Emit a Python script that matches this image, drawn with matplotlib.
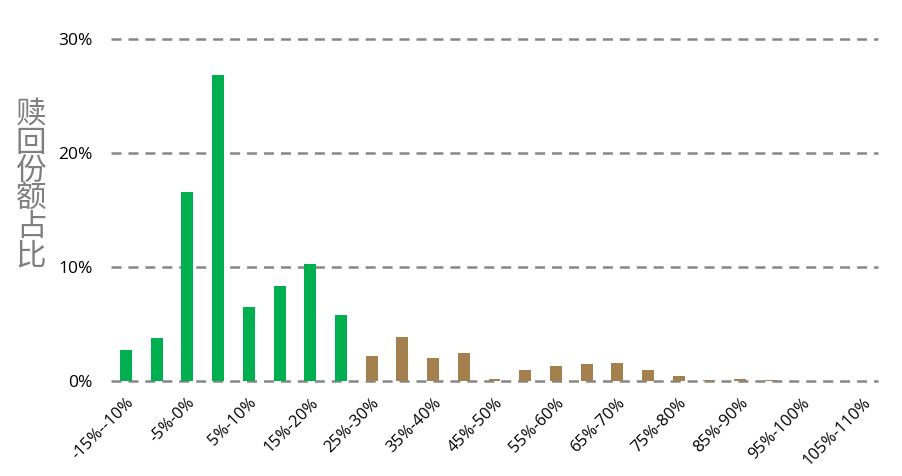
import matplotlib
matplotlib.use("Agg")
import matplotlib.pyplot as plt
import numpy as np

plt.rcParams['font.family'] = ['Open Sans', 'Noto Sans CJK SC', 'DejaVu Sans']
plt.rcParams['lines.scale_dashes'] = False

categories = ["-15%--10%", "-10%--5%", "-5%-0%", "0%-5%", "5%-10%", "10%-15%", "15%-20%",
              "20%-25%", "25%-30%", "30%-35%", "35%-40%", "40%-45%", "45%-50%", "50%-55%",
              "55%-60%", "60%-65%", "65%-70%", "70%-75%", "75%-80%", "80%-85%", "85%-90%",
              "90%-95%", "95%-100%", "100%-105%", "105%-110%"]
values = [2.7, 3.8, 16.6, 26.8, 6.5, 8.3, 10.3, 5.75,
          2.2, 3.9, 2.0, 2.5, 0.2, 1.0, 1.3, 1.5, 1.6, 1.0, 0.45, 0.05,
          0.2, 0.1, 0.03, 0.02, 0.02]
n_green = 8
yticks = [0, 10, 20, 30]
ytick_labels = ["0%", "10%", "20%", "30%"]
ylabel = "赎回份额占比"

green = "#00B050"
brown = "#A5804F"

fig = plt.figure(figsize=(9.02, 4.76), dpi=100)
ax = fig.add_axes([110.6/902, 95/476, (878.4-110.6)/902, (437-95)/476])

x = np.arange(len(categories))
colors = [green if i < n_green else brown for i in range(len(categories))]
for yv in yticks:
    ax.axhline(yv, color="#878787", lw=1.8, dashes=(7.2, 5.0), clip_on=False, zorder=1)
ax.bar(x, values, width=0.39, color=colors, zorder=2)

ax.set_xlim(-0.5, len(categories) - 0.5)
ax.set_ylim(0, 30)
for s in ax.spines.values():
    s.set_visible(False)

ax.set_yticks(yticks)
ax.set_yticklabels(ytick_labels, fontsize=12.5, color="black")
ax.tick_params(axis='y', length=0, pad=13)

ax.set_xticks(x[::2])
ax.set_xticklabels(categories[::2], rotation=45, ha='right', rotation_mode='anchor',
                   fontsize=11.8, color="black")
ax.tick_params(axis='x', length=0, pad=10)

fig.text(31/902, 1 - 185.5/476, "\n".join(ylabel), ha='center', va='center',
         fontsize=22, color="#7F7F7F", linespacing=0.88,
         family=['Noto Sans CJK SC', 'DejaVu Sans'])

fig.savefig("out.png", dpi=100)
